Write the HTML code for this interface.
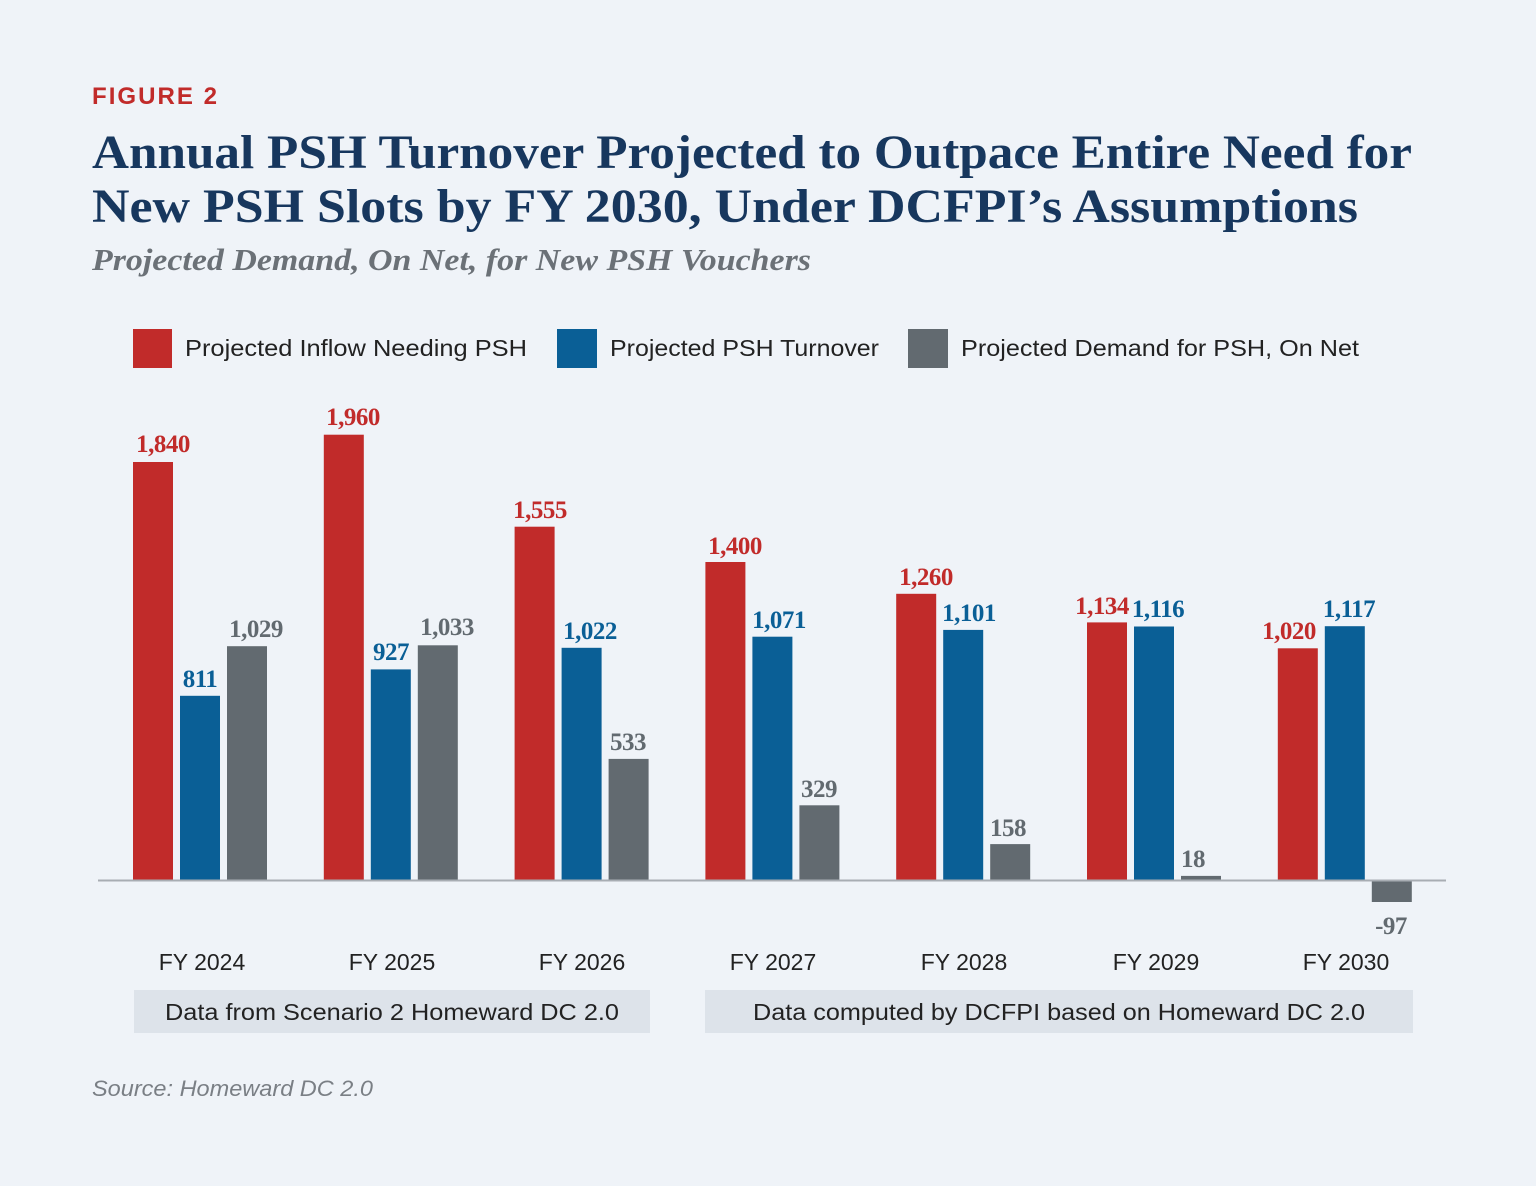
<!DOCTYPE html>
<html><head><meta charset="utf-8"><style>body{margin:0;background:#eff3f8}</style></head><body>
<svg width="1536" height="1181" viewBox="0 0 1536 1181" xmlns="http://www.w3.org/2000/svg">
<rect width="1536" height="1181" fill="#eff3f8"/>
<text x="92" y="104" font-family="Liberation Sans, sans-serif" font-weight="bold" font-size="24" fill="#c12b2a" letter-spacing="2" textLength="127" lengthAdjust="spacingAndGlyphs">FIGURE 2</text>
<g font-family="Liberation Serif, serif" font-weight="bold" font-size="48" fill="#17375e">
<text x="92" y="168" textLength="1320" lengthAdjust="spacingAndGlyphs">Annual PSH Turnover Projected to Outpace Entire Need for</text>
<text x="92" y="222" textLength="1266" lengthAdjust="spacingAndGlyphs">New PSH Slots by FY 2030, Under DCFPI’s Assumptions</text>
</g>
<text x="92" y="270" font-family="Liberation Serif, serif" font-style="italic" font-weight="bold" font-size="31" fill="#6b7177" textLength="719" lengthAdjust="spacingAndGlyphs">Projected Demand, On Net, for New PSH Vouchers</text>
<g font-family="Liberation Sans, sans-serif" font-size="23" fill="#222">
<rect x="133" y="329" width="39" height="39" fill="#c12b2a"/><text x="185" y="356" textLength="342" lengthAdjust="spacingAndGlyphs">Projected Inflow Needing PSH</text>
<rect x="557" y="329" width="40" height="39" fill="#0a5f96"/><text x="610" y="356" textLength="269" lengthAdjust="spacingAndGlyphs">Projected PSH Turnover</text>
<rect x="908" y="329" width="40" height="39" fill="#626a70"/><text x="961" y="356" textLength="398" lengthAdjust="spacingAndGlyphs">Projected Demand for PSH, On Net</text>
</g>
<g>
<rect x="133" y="462" width="40" height="418" fill="#c12b2a"/>
<rect x="180" y="695.8" width="40" height="184.2" fill="#0a5f96"/>
<rect x="227" y="646.2" width="40" height="233.8" fill="#626a70"/>
<rect x="323.8" y="434.7" width="40" height="445.3" fill="#c12b2a"/>
<rect x="370.8" y="669.4" width="40" height="210.6" fill="#0a5f96"/>
<rect x="417.8" y="645.3" width="40" height="234.7" fill="#626a70"/>
<rect x="514.6" y="526.7" width="40" height="353.3" fill="#c12b2a"/>
<rect x="561.6" y="647.8" width="40" height="232.2" fill="#0a5f96"/>
<rect x="608.6" y="758.9" width="40" height="121.1" fill="#626a70"/>
<rect x="705.4" y="562" width="40" height="318" fill="#c12b2a"/>
<rect x="752.4" y="636.7" width="40" height="243.3" fill="#0a5f96"/>
<rect x="799.4" y="805.3" width="40" height="74.7" fill="#626a70"/>
<rect x="896.2" y="593.8" width="40" height="286.2" fill="#c12b2a"/>
<rect x="943.2" y="629.9" width="40" height="250.1" fill="#0a5f96"/>
<rect x="990.2" y="844.1" width="40" height="35.9" fill="#626a70"/>
<rect x="1087" y="622.4" width="40" height="257.6" fill="#c12b2a"/>
<rect x="1134" y="626.5" width="40" height="253.5" fill="#0a5f96"/>
<rect x="1181" y="875.9" width="40" height="4.1" fill="#626a70"/>
<rect x="1277.8" y="648.3" width="40" height="231.7" fill="#c12b2a"/>
<rect x="1324.8" y="626.2" width="40" height="253.8" fill="#0a5f96"/>
<rect x="1371.8" y="880" width="40" height="22" fill="#626a70"/>
</g>
<g font-family="Liberation Serif, serif" font-weight="bold" font-size="25" text-anchor="middle" letter-spacing="-0.5">
<text x="163" y="452" fill="#c12b2a">1,840</text>
<text x="200" y="687" fill="#0a5f96">811</text>
<text x="256" y="637" fill="#626a70">1,029</text>
<text x="353" y="425" fill="#c12b2a">1,960</text>
<text x="391" y="660" fill="#0a5f96">927</text>
<text x="447" y="635" fill="#626a70">1,033</text>
<text x="540" y="518" fill="#c12b2a">1,555</text>
<text x="590" y="639" fill="#0a5f96">1,022</text>
<text x="628" y="750" fill="#626a70">533</text>
<text x="735" y="554" fill="#c12b2a">1,400</text>
<text x="779" y="628" fill="#0a5f96">1,071</text>
<text x="819" y="797" fill="#626a70">329</text>
<text x="926" y="585" fill="#c12b2a">1,260</text>
<text x="969" y="621" fill="#0a5f96">1,101</text>
<text x="1008" y="836" fill="#626a70">158</text>
<text x="1102" y="614" fill="#c12b2a">1,134</text>
<text x="1158" y="617" fill="#0a5f96">1,116</text>
<text x="1193" y="867" fill="#626a70">18</text>
<text x="1289" y="639" fill="#c12b2a">1,020</text>
<text x="1349" y="617" fill="#0a5f96">1,117</text>
<text x="1391" y="934" fill="#626a70">-97</text>
</g>
<line x1="98" y1="880.5" x2="1446" y2="880.5" stroke="#a8adb3" stroke-width="2"/>
<g font-family="Liberation Sans, sans-serif" font-size="23" fill="#222" text-anchor="middle">
<text x="202" y="970">FY 2024</text><text x="392" y="970">FY 2025</text><text x="582" y="970">FY 2026</text><text x="773" y="970">FY 2027</text><text x="964" y="970">FY 2028</text><text x="1156" y="970">FY 2029</text><text x="1346" y="970">FY 2030</text>
</g>
<rect x="134" y="990" width="516" height="43" fill="#dde3ea"/>
<rect x="705" y="990" width="708" height="43" fill="#dde3ea"/>
<g font-family="Liberation Sans, sans-serif" font-size="23" fill="#222" text-anchor="middle">
<text x="392" y="1020" textLength="454" lengthAdjust="spacingAndGlyphs">Data from Scenario 2 Homeward DC 2.0</text>
<text x="1059" y="1020" textLength="612" lengthAdjust="spacingAndGlyphs">Data computed by DCFPI based on Homeward DC 2.0</text>
</g>
<text x="92" y="1096" font-family="Liberation Sans, sans-serif" font-style="italic" font-size="22" fill="#7a7f85" textLength="281" lengthAdjust="spacingAndGlyphs">Source: Homeward DC 2.0</text>
</svg>
</body></html>
